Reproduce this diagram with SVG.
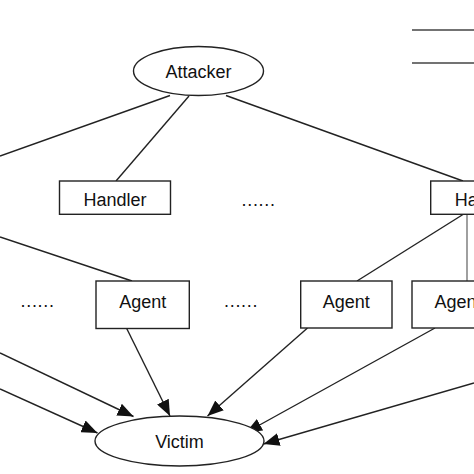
<svg xmlns="http://www.w3.org/2000/svg" width="474" height="474" viewBox="0 0 474 474">
<style>
.n{fill:#fff;stroke:#222;stroke-width:1.4}
.t{font-family:"Liberation Sans",Arial,sans-serif;font-size:18px;fill:#111;text-anchor:middle}
.d{font-family:"Liberation Sans",Arial,sans-serif;font-size:18px;fill:#111;letter-spacing:0.7px}
.c{stroke:#222;stroke-width:1.4;fill:none}
.a{stroke:#222;stroke-width:1.4;fill:none;marker-end:url(#ah)}
</style>
<defs>
<marker id="ah" markerUnits="userSpaceOnUse" markerWidth="17" markerHeight="13" refX="16" refY="6.5" orient="auto">
<path d="M0,0 L16,6.5 L0,13 z" fill="#111"/>
</marker>
</defs>
<rect width="474" height="474" fill="#fff"/>
<g id="legend">
<line x1="412" y1="30" x2="474" y2="30" stroke="#444" stroke-width="1.6"/>
<line x1="412" y1="63" x2="474" y2="63" stroke="#444" stroke-width="1.6"/>
</g>
<g id="connectors">
<line class="c" x1="170" y1="95.5" x2="0" y2="156"/>
<line class="c" x1="189" y1="96" x2="116" y2="181"/>
<line class="c" x1="226" y1="95.5" x2="463" y2="181"/>
<line class="c" x1="0" y1="237" x2="132" y2="281"/>
<line class="c" x1="463" y1="214.5" x2="357" y2="281"/>
<line x1="467" y1="214.5" x2="467" y2="281" stroke="#888" stroke-width="1.6"/>
<line class="a" x1="126.7" y1="328.5" x2="170" y2="416"/>
<line class="a" x1="307.5" y1="328" x2="207.5" y2="416"/>
<line class="a" x1="435" y1="328" x2="246" y2="432.5"/>
<line class="a" x1="474" y1="383" x2="263.5" y2="444"/>
<line class="a" x1="0" y1="353" x2="133.5" y2="416.5"/>
<line class="a" x1="0" y1="389" x2="97.5" y2="433"/>
</g>
<g id="attacker">
<ellipse class="n" cx="198.5" cy="71" rx="65" ry="24.5"/>
<text class="t" x="198.5" y="77.5">Attacker</text>
</g>
<g id="handler1">
<rect class="n" x="59.5" y="181" width="111" height="33.3"/>
<text class="t" x="115" y="206">Handler</text>
</g>
<g id="handler2">
<rect class="n" x="430.7" y="181" width="111" height="33.3"/>
<text class="t" x="486.2" y="206">Handler</text>
</g>
<g id="dots1"><text class="d" x="241.5" y="205.5">......</text></g>
<g id="dots2"><text class="d" x="20.5" y="307">......</text></g>
<g id="dots3"><text class="d" x="224" y="307">......</text></g>
<g id="agent1">
<rect class="n" x="96" y="281" width="93.3" height="47.5"/>
<text class="t" x="142.7" y="308.3">Agent</text>
</g>
<g id="agent2">
<rect class="n" x="300.7" y="281" width="91.3" height="47"/>
<text class="t" x="346.3" y="308.3">Agent</text>
</g>
<g id="agent3">
<rect class="n" x="412" y="281" width="92" height="47"/>
<text class="t" x="458" y="308.3">Agent</text>
</g>
<g id="victim">
<ellipse class="n" cx="179.5" cy="441" rx="84.5" ry="25"/>
<text class="t" x="179.5" y="447.5">Victim</text>
</g>
</svg>
